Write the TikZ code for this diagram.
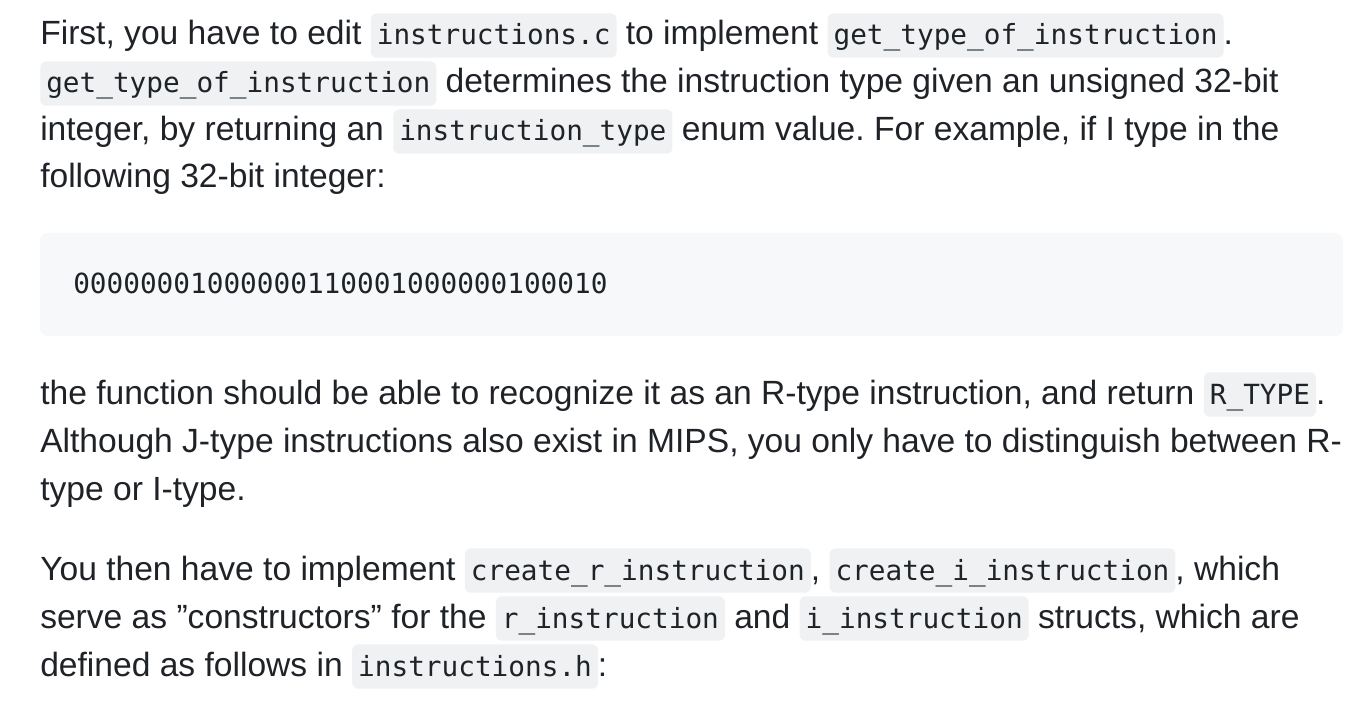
\documentclass[tikz,border=0pt]{standalone}
\usepackage{fontspec}
\setmainfont{Liberation Sans}
\setmonofont{DejaVu Sans Mono}
\definecolor{codebg}{HTML}{EFF1F3}
\definecolor{blockbg}{HTML}{F6F8FA}
\definecolor{txt}{HTML}{1F2328}
\frenchspacing
\newcommand{\cd}[1]{\tikz[baseline=(cc.base)]\node[fill=codebg,rounded corners=4.5pt,inner xsep=4.5pt,inner ysep=4pt,text depth=0.22em,text height=0.78em](cc){\fontsize{20.8pt}{24pt}\selectfont\ttfamily #1};}
\tikzset{ln/.style={anchor=base west,inner sep=0pt,text=txt,font=\fontsize{25.2pt}{36pt}\selectfont}}
\begin{document}
\begin{tikzpicture}[x=0.75pt,y=-0.75pt]
\useasboundingbox (0,0) rectangle (1372,706);
\fill[white] (0,0) rectangle (1372,706);
\node[ln] (l1) at (40,45) {First, you have to edit \cd{instructions.c} to implement \cd{get\_type\_of\_instruction}.};
\node[ln] (l2) at (40,93) {\cd{get\_type\_of\_instruction} determines the instruction type given an unsigned 32-bit};
\node[ln] (l3) at (40,141) {integer, by returning an \cd{instruction\_type} enum value. For example, if I type in the};
\node[ln] (l4) at (40,188) {following 32-bit integer:};
\fill[blockbg,rounded corners=6pt] (40,233) rectangle (1343,336);
\node[ln,font=\fontsize{20.8pt}{24pt}\selectfont\ttfamily] (code) at (73,294) {00000001000000110001000000100010};
\node[ln] (p1) at (40,404) {the function should be able to recognize it as an R-type instruction, and return \cd{R\_TYPE}.};
\node[ln] (p2) at (40,452) {Although J-type instructions also exist in MIPS, you only have to distinguish between R-};
\node[ln] (p3) at (40,500) {type or I-type.};
\node[ln] (q1) at (40,580) {You then have to implement \cd{create\_r\_instruction}, \cd{create\_i\_instruction}, which};
\node[ln] (q2) at (40,628) {serve as \char"22 constructors\char"22{} for the \cd{r\_instruction} and \cd{i\_instruction} structs, which are};
\node[ln] (q3) at (40,676) {defined as follows in \cd{instructions.h}:};
\end{tikzpicture}
\end{document}
